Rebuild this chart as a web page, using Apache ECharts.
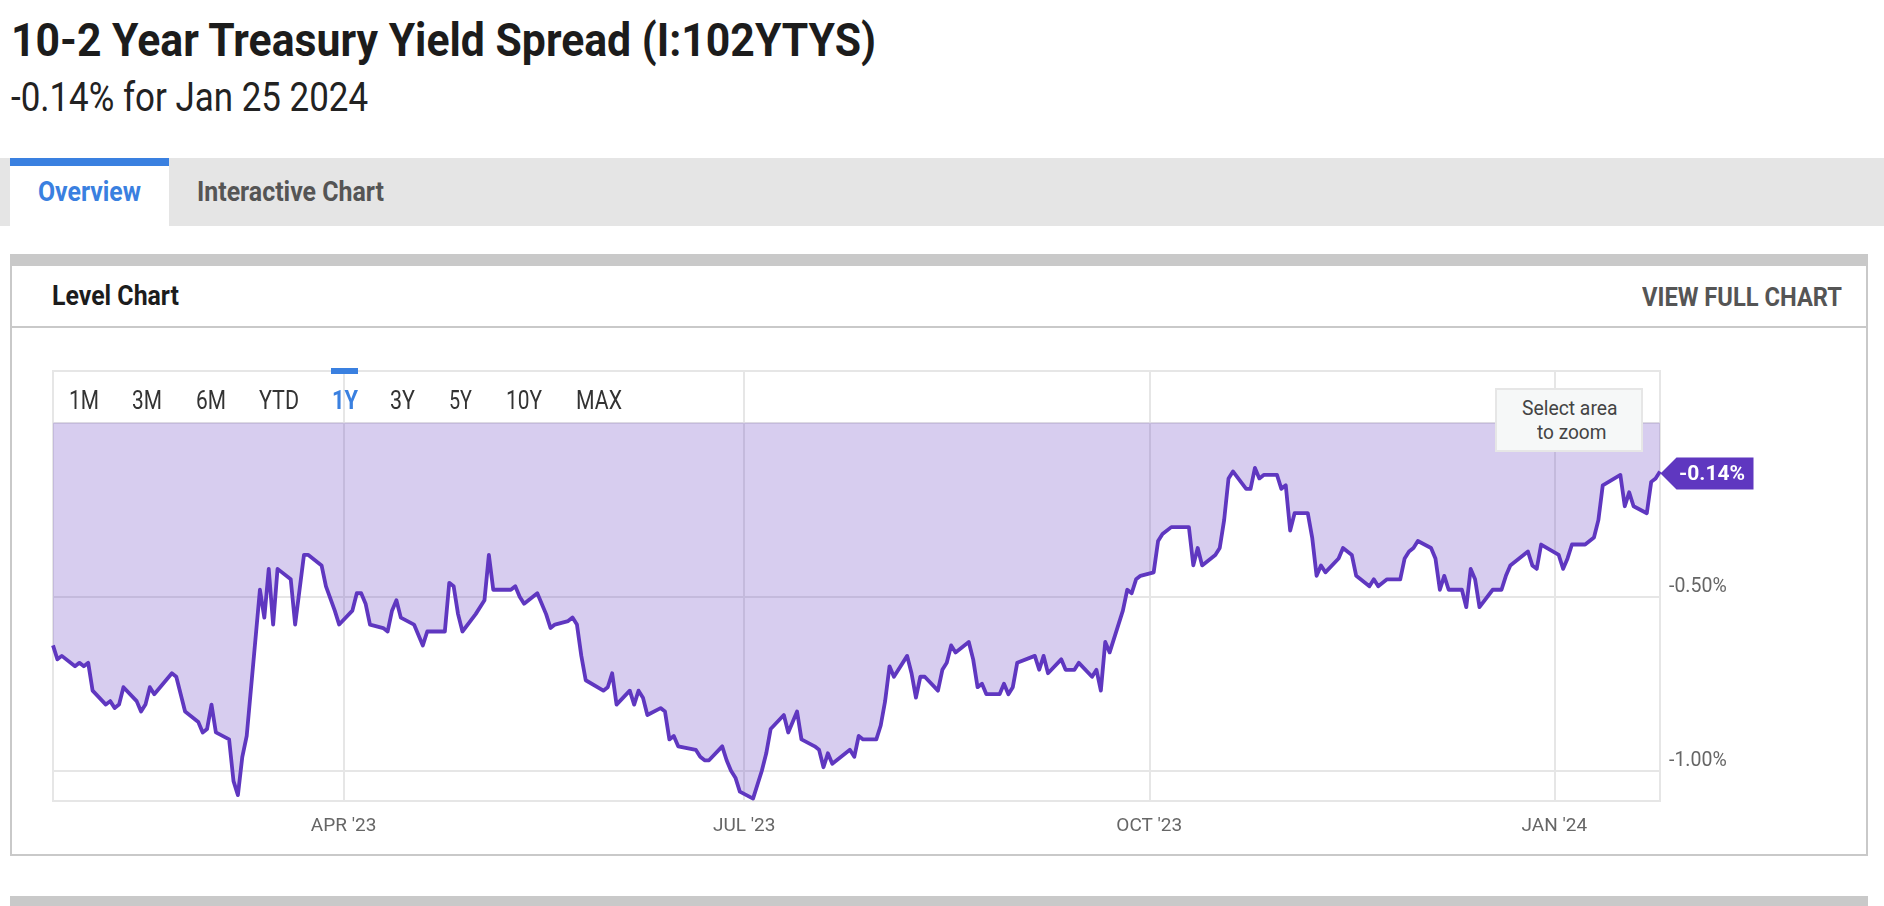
<!DOCTYPE html>
<html>
<head>
<meta charset="utf-8">
<title>10-2 Year Treasury Yield Spread</title>
<script src="https://cdn.jsdelivr.net/npm/echarts@6/dist/echarts.min.js"></script>
<style>
html,body{margin:0;padding:0;background:#fff;width:1884px;height:906px;overflow:hidden;font-family:Roboto,sans-serif}
.box{position:absolute}
.txt{position:absolute;white-space:nowrap;transform-origin:0 50%;font-family:Roboto,sans-serif}
#chart{position:absolute;left:0;top:0;width:1884px;height:906px}
</style>
</head>
<body>
<div id="under"></div>
<div id="chart"></div>
<div id="over"></div>
<script>
const startDate = [2023, 0, 25];
const endDate = [2024, 0, 25];
const spreadDays = [
0,1,2,5,6,7,8,9,12,13,14,15,16,19,20,21,22,23,27,28,30,33,34,35,36,37,40,41,42,43,44,47,48,49,50,51,54,55,57,58,61,62,64,65,68,69,70,71,72,75,76,77,78,79,82,84,85,89,90,91,92,93,96,98,99,
100,104,105,106,107,110,112,113,114,117,118,119,120,121,125,126,127,128,131,132,133,134,135,138,139,140,141,142,146,147,148,149,152,153,154,155,156,159,161,162,163,166,167,169,170,173,174,175,176,177,181,182,183,184,187,188,189,190,191,194,195,196,197,198,
201,202,203,204,205,208,209,210,211,212,215,216,217,218,219,223,224,225,226,229,230,232,233,236,237,238,239,240,243,244,245,246,247,250,251,252,254,258,259,260,261,264,265,266,267,268,271,272,273,274,275,278,279,280,281,282,285,286,287,288,289,292,293,295,296,299,
300,301,303,306,307,308,309,310,313,314,315,316,317,320,321,322,323,324,327,329,330,331,335,336,337,338,342,343,344,345,348,350,351,352,356,357,358,359,362,363,364,365];
// 10-2 year spread, percent
const spreadValues = [
-0.64,-0.68,-0.67,-0.70,-0.69,-0.70,-0.69,-0.77,-0.81,-0.80,-0.82,-0.81,-0.76,-0.80,-0.83,-0.81,-0.76,-0.78,-0.72,-0.73,-0.83,-0.86,-0.89,-0.88,-0.81,-0.89,-0.91,-1.03,-1.07,-0.96,-0.90,-0.48,-0.56,-0.42,-0.58,-0.42,-0.45,-0.58,-0.38,-0.38,-0.41,-0.47,-0.54,-0.58,-0.54,-0.49,-0.49,-0.52,-0.58,-0.59,-0.60,-0.54,-0.51,-0.56,-0.58,-0.64,-0.60,-0.60,-0.46,-0.47,-0.55,-0.60,-0.55,-0.51,-0.38,
-0.48,-0.48,-0.47,-0.50,-0.52,-0.49,-0.55,-0.59,-0.58,-0.57,-0.56,-0.58,-0.67,-0.74,-0.77,-0.76,-0.72,-0.81,-0.77,-0.81,-0.77,-0.79,-0.84,-0.82,-0.83,-0.91,-0.90,-0.93,-0.94,-0.96,-0.97,-0.97,-0.93,-0.97,-1.00,-1.02,-1.06,-1.08,-1.00,-0.95,-0.88,-0.84,-0.89,-0.83,-0.91,-0.93,-0.94,-0.99,-0.95,-0.98,-0.94,-0.96,-0.90,-0.91,-0.91,-0.87,-0.80,-0.70,-0.73,-0.67,-0.72,-0.79,-0.73,-0.73,
-0.77,-0.71,-0.69,-0.64,-0.66,-0.63,-0.68,-0.76,-0.75,-0.78,-0.78,-0.75,-0.78,-0.76,-0.69,-0.67,-0.71,-0.67,-0.72,-0.68,-0.71,-0.71,-0.69,-0.73,-0.71,-0.77,-0.63,-0.66,-0.54,-0.48,-0.49,-0.45,-0.44,-0.43,-0.34,-0.32,-0.30,-0.30,-0.41,-0.36,-0.41,-0.38,-0.36,-0.28,-0.16,-0.14,-0.19,-0.19,-0.13,-0.16,-0.15,-0.15,-0.19,-0.18,-0.31,-0.26,-0.26,-0.33,-0.44,-0.41,-0.43,-0.39,-0.36,-0.38,-0.44,-0.47,
-0.45,-0.47,-0.45,-0.45,-0.39,-0.37,-0.36,-0.34,-0.36,-0.39,-0.48,-0.44,-0.48,-0.48,-0.53,-0.42,-0.45,-0.53,-0.48,-0.48,-0.44,-0.41,-0.37,-0.41,-0.42,-0.35,-0.38,-0.42,-0.39,-0.35,-0.35,-0.33,-0.28,-0.18,-0.15,-0.24,-0.20,-0.24,-0.26,-0.17,-0.16,-0.14];
const xTickDates = [[2023,3,1],[2023,6,1],[2023,9,1],[2024,0,1]];
const xTickLabels = ["APR '23","JUL '23","OCT '23","JAN '24"];
const yTickValues = [-1, -0.5, 0];
const yLabelValues = [-1, -0.5];
const lastLabel = "-0.14%";
const rangeLabels = ["1M","3M","6M","YTD","1Y","3Y","5Y","10Y","MAX"];
const titleText = "10-2 Year Treasury Yield Spread (I:102YTYS)";
const subtitleText = "-0.14% for Jan 25 2024";

const PURPLE = '#5f37c0';
const ms = a => new Date(a[0], a[1], a[2]).getTime();
const t0 = ms(startDate);
const dayTime = d => new Date(startDate[0], startDate[1], startDate[2] + d).getTime();
const points = spreadDays.map((d, i) => [dayTime(d), spreadValues[i]]);
const xTicks = xTickDates.map(ms);

// ---------- page chrome ----------
const under = document.getElementById('under'), over = document.getElementById('over');
function box(parent, x, y, w, h, css) {
  const e = document.createElement('div');
  e.className = 'box';
  e.style.cssText = `left:${x}px;top:${y}px;width:${w}px;height:${h}px;${css}`;
  parent.appendChild(e);
  return e;
}
function text(parent, s, x, base, w, size, weight, color) {
  const e = document.createElement('div');
  e.className = 'txt';
  e.textContent = s;
  e.style.cssText = `left:${x}px;top:${base - 0.8415 * size}px;font-size:${size}px;line-height:${size}px;font-weight:${weight};color:${color}`;
  parent.appendChild(e);
  const natural = e.getBoundingClientRect().width;
  e.style.transform = `scaleX(${w / natural})`;
  return e;
}
// tab bar
box(under, 0, 158, 1884, 68, 'background:#e5e5e5');
box(under, 10, 158, 159, 68, 'background:#fff');
box(under, 10, 158, 159, 8, 'background:#3a80e0');
// panel
box(under, 10, 254, 1858, 12, 'background:#c9c9c9');
box(under, 10, 254, 2, 602, 'background:#c9c9c9');
box(under, 1866, 254, 2, 602, 'background:#c9c9c9');
box(under, 10, 854, 1858, 2, 'background:#c9c9c9');
box(under, 10, 326, 1858, 2, 'background:#c9c9c9');
box(under, 10, 896, 1858, 10, 'background:#c9c9c9');
text(under, titleText, 11, 56, 865, 47, 700, '#1c1c1c');
text(under, subtitleText, 11, 112, 357, 40, 400, '#222');
text(under, 'Overview', 38, 202, 103, 27, 700, '#3a80e0');
text(under, 'Interactive Chart', 197, 202, 187, 27, 700, '#555');
text(under, 'Level Chart', 52, 306, 127, 27, 700, '#1c1c1c');
text(under, 'VIEW FULL CHART', 1642, 306, 200, 25, 700, '#555');
// range selector
const rangeX = [69,132,196,259,332,390,449,506,576];
const rangeW = [30,30,30,40,26,25,23,36,46];
rangeLabels.forEach((s, i) => text(over, s, rangeX[i], 409, rangeW[i], 25, s === '1Y' ? 700 : 400, s === '1Y' ? '#3a80e0' : '#333'));
box(over, 331, 368, 27, 6, 'background:#3a80e0');
// zoom hint
box(over, 1495, 388, 148, 64, 'background:#f6f8f8;border:2px solid #e6e6e6;box-sizing:border-box');
text(over, 'Select area', 1521.5, 416, 95.5, 21, 400, '#444');
text(over, 'to zoom', 1537, 440, 69.5, 21, 400, '#444');

// ---------- chart ----------
const chart = echarts.init(document.getElementById('chart'), null, {renderer: 'canvas'});
const GRID = '#e6e6e6', AXIS_TEXT = '#666';
chart.setOption({
  animation: false,
  backgroundColor: 'transparent',
  textStyle: {fontFamily: 'Roboto'},
  grid: {left: 53, top: 371, width: 1607, height: 430, show: true, borderColor: GRID, borderWidth: 2, backgroundColor: 'transparent'},
  xAxis: {
    type: 'value', min: t0, max: ms(endDate),
    axisLine: {show: false},
    axisTick: {show: false, customValues: xTicks},
    splitLine: {show: true, lineStyle: {color: GRID, width: 2}},
    axisLabel: {
      customValues: xTicks, hideOverlap: false, margin: 16, color: AXIS_TEXT,
      fontFamily: 'Roboto', fontSize: 19,
      formatter: v => { const i = xTicks.indexOf(+v); return i < 0 ? '' : xTickLabels[i]; }
    }
  },
  yAxis: {
    type: 'value', position: 'right', min: -1.087, max: 0.1486,
    axisLine: {show: false},
    axisTick: {show: false, customValues: yTickValues},
    splitLine: {show: true, lineStyle: {color: GRID, width: 2}},
    axisLabel: {
      customValues: yLabelValues, margin: 9, align: 'left', verticalAlign: 'bottom',
      color: AXIS_TEXT, fontFamily: 'Roboto', fontSize: 19.5,
      formatter: v => v.toFixed(2) + '%'
    }
  },
  series: [{
    type: 'line', data: points, showSymbol: false, symbol: 'none', smooth: false,
    lineStyle: {color: PURPLE, width: 3.8, join: 'round'},
    itemStyle: {color: PURPLE},
    areaStyle: {origin: 0, color: 'rgb(95,55,192)', opacity: 0.25},
    clip: false,
    silent: true,
    markPoint: {
      silent: true,
      symbol: 'path://M0 16 L16 0 L93 0 L93 32 L16 32 Z',
      symbolSize: [93, 32],
      symbolOffset: [47, 2],
      itemStyle: {color: PURPLE},
      data: [{
        coord: points[points.length - 1],
        label: {
          show: true, position: 'inside', offset: [5, 1], formatter: lastLabel,
          color: '#fff', fontFamily: 'Roboto', fontWeight: 700, fontSize: 21
        }
      }]
    }
  }]
});
</script>
</body>
</html>
